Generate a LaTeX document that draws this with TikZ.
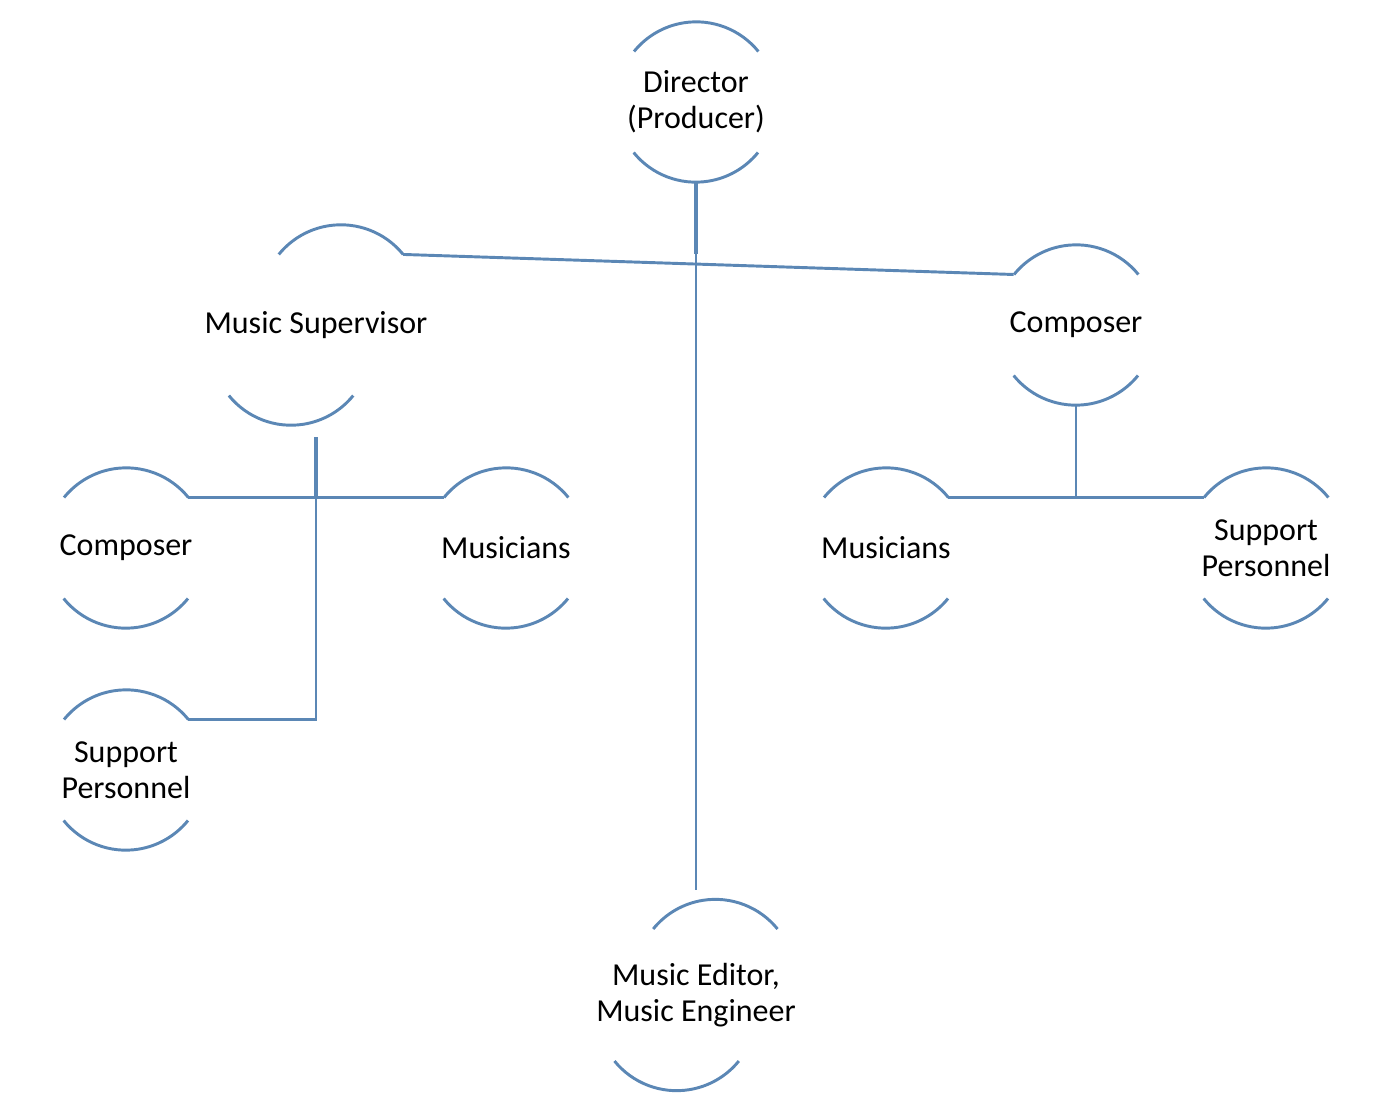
\documentclass[tikz,border=0pt]{standalone}
\usepackage{fontspec}
\setmainfont{Carlito}
\begin{document}
\begin{tikzpicture}[x=0.75pt,y=0.75pt,
  role/.style={circle,minimum size=120pt,inner sep=0pt,align=center,font=\fontsize{24}{27}\selectfont},
  arcs/.style={draw=blue!40!gray!90!black,line width=2.2pt},
  link/.style={draw=blue!40!gray!90!black,line width=2.2pt},
  trunk/.style={draw=blue!40!gray!90!black,line width=3.6pt}]
\definecolor{ln}{HTML}{5B87B5}
\tikzset{arcs/.style={draw=ln,line width=2.2pt},link/.style={draw=ln,line width=2.2pt},trunk/.style={draw=ln,line width=3.6pt}}
\useasboundingbox (0,0) rectangle (1383,-1106);
\node[role] (dir) at (696,-102) {Director\\(Producer)};
\node[role] (ms) at (316,-325) {Music Supervisor};
\node[role] (cr) at (1076,-325) {Composer};
\node[role] (cl) at (126,-548) {Composer};
\node[role] (ml) at (506,-548) {Musicians};
\node[role] (mr) at (886,-548) {Musicians};
\node[role] (sr) at (1266,-548) {Support\\Personnel};
\node[role] (sl) at (126,-770) {Support\\Personnel};
\node[role] (me) at (696,-995) {Music Editor,\\Music Engineer};
\foreach \n in {dir,ms,cr,cl,ml,mr,sr,sl,me}{
  \draw[arcs] (\n.39) arc[start angle=39,end angle=141,radius=60pt];
  \draw[arcs] (\n.219) arc[start angle=219,end angle=321,radius=60pt];
}
\coordinate (j0) at (dir.south |- ms.39);
\coordinate (j1) at (ms.south |- cl.39);
\coordinate (j2) at (cr.south |- mr.39);
\draw[link] (dir.south) -- (me.north);
\draw[trunk] (dir.south) -- (j0);
\draw[link] (ms.39) -- (cr.141);
\draw[trunk] (ms.south) -- (j1);
\draw[link] (cl.39) -- (ml.141);
\draw[link] (j1) |- (sl.39);
\draw[link] (cr.south) -- (j2);
\draw[link] (mr.39) -- (sr.141);
\end{tikzpicture}
\end{document}
